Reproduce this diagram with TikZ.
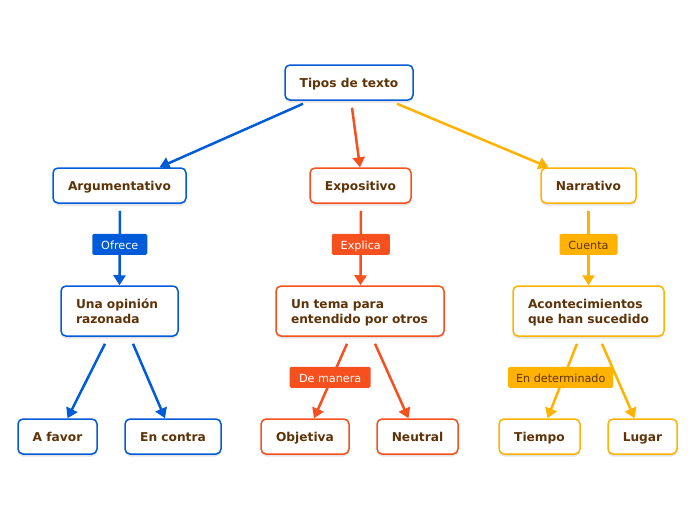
\documentclass[tikz,border=0pt]{standalone}
\usepackage{fontspec}
\setmainfont{DejaVu Sans}
\usetikzlibrary{arrows.meta,shadows}
\definecolor{cblue}{HTML}{005BD8}
\definecolor{corange}{HTML}{F5501E}
\definecolor{cyellow}{HTML}{FFB300}
\definecolor{cbrown}{HTML}{5E3308}
\begin{document}
\begin{tikzpicture}[x=1pt,y=-1pt,
  box/.style={draw, rounded corners=5pt, line width=1.5pt, fill=white, font=\fontsize{12.2}{15}\selectfont\bfseries, text=cbrown, inner sep=0pt, minimum height=35pt, text height=10pt, text depth=0pt, drop shadow={opacity=0.22, shadow xshift=0pt, shadow yshift=-2.5pt}},
  mbox/.style={box, minimum height=50pt, align=left, inner xsep=15pt, text depth=15pt},
  lab/.style={rounded corners=1.5pt, font=\fontsize{11.2}{13}\selectfont, inner sep=0pt, minimum height=21pt, text height=9.5pt, text depth=0pt},
  conn/.style={line width=2.5pt, -{Triangle[length=10pt,width=12pt]}}
]
\useasboundingbox (0,0) rectangle (696,520);
% nodes
\node[box, draw=cblue, minimum width=128pt] (tipos) at (349,82.5) {Tipos de texto};
\node[box, draw=cblue, minimum width=133pt] (arg) at (119.5,185.5) {Argumentativo};
\node[box, draw=corange, minimum width=101pt] (exp) at (360.5,185.5) {Expositivo};
\node[box, draw=cyellow, minimum width=95pt] (nar) at (588.5,185.5) {Narrativo};
\node[mbox, draw=cblue, text width=87pt] (opi) at (119.5,311) {Una opinión\\razonada};
\node[mbox, draw=corange, text width=138pt] (tema) at (360,311) {Un tema para\\entendido por otros};
\node[mbox, draw=cyellow, text width=121pt] (acon) at (588.5,311) {Acontecimientos\\que han sucedido};
\node[box, draw=cblue, minimum width=79pt] (fav) at (57.5,436.5) {A favor};
\node[box, draw=cblue, minimum width=96pt] (con) at (173,436.5) {En contra};
\node[box, draw=corange, minimum width=88pt] (obj) at (305,436.5) {Objetiva};
\node[box, draw=corange, minimum width=81pt] (neu) at (417.5,436.5) {Neutral};
\node[box, draw=cyellow, minimum width=81pt] (tie) at (539.5,436.5) {Tiempo};
\node[box, draw=cyellow, minimum width=69pt] (lug) at (642.5,436.5) {Lugar};
% top connectors
\draw[conn, cblue] ([xshift=-46pt,yshift=-3pt]tipos.south) -- ([xshift=40pt]arg.north);
\draw[conn, corange] ([xshift=3pt,yshift=-7pt]tipos.south) -- ([xshift=-0.5pt]exp.north);
\draw[conn, cyellow] ([xshift=48pt,yshift=-3pt]tipos.south) -- ([xshift=-40pt]nar.north);
% middle connectors with labels
\draw[conn, cblue] ([xshift=0.5pt,yshift=-7pt]arg.south) -- (opi.north)
  node[lab, pos=0.45, fill=cblue, text=white, minimum width=55pt] (l1) {Ofrece};
\draw[conn, corange] ([xshift=0.5pt,yshift=-7pt]exp.south) -- ([xshift=0.5pt]tema.north)
  node[lab, pos=0.45, fill=corange, text=white, minimum width=58pt] (l2) {Explica};
\draw[conn, cyellow] ([yshift=-7pt]nar.south) -- (acon.north)
  node[lab, pos=0.45, fill=cyellow, text=cbrown, minimum width=58pt] (l3) {Cuenta};
% bottom connectors
\draw[conn, cblue] ([xshift=-14.5pt,yshift=-7pt]opi.south) -- ([xshift=10pt]fav.north);
\draw[conn, cblue] ([xshift=13.5pt,yshift=-7pt]opi.south) -- ([xshift=-8pt]con.north);
\draw[conn, corange] ([xshift=-13pt,yshift=-7pt]tema.south) -- ([xshift=9pt]obj.north)
  node[lab, pos=0.45, fill=corange, text=white, minimum width=81pt, xshift=-2pt] (l4) {De manera};
\draw[conn, corange] ([xshift=15pt,yshift=-7pt]tema.south) -- ([xshift=-9pt]neu.north);
\draw[conn, cyellow] ([xshift=-11.5pt,yshift=-7pt]acon.south) -- ([xshift=8pt]tie.north)
  node[lab, pos=0.45, fill=cyellow, text=cbrown, minimum width=105pt, xshift=-3pt] (l5) {En determinado};
\draw[conn, cyellow] ([xshift=13.5pt,yshift=-7pt]acon.south) -- ([xshift=-8pt]lug.north);
\end{tikzpicture}
\end{document}
